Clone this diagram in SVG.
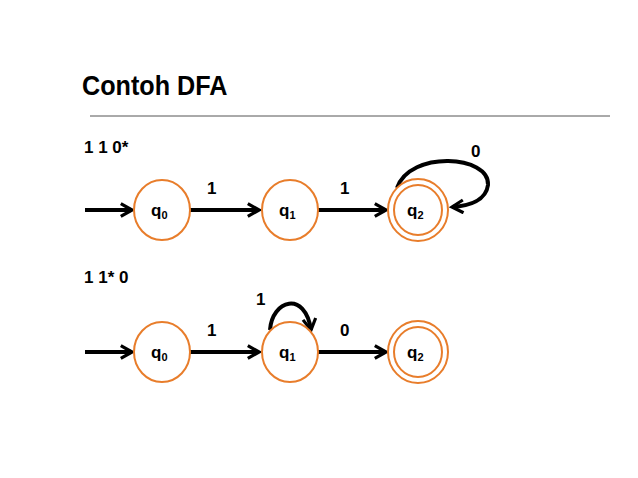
<svg xmlns="http://www.w3.org/2000/svg" width="638" height="478" viewBox="0 0 638 478">
<style>
.st{fill:#fff;stroke:#E87D2B;stroke-width:2}
.e{fill:none;stroke:#000;stroke-width:4}
.t{font-family:"Liberation Sans",Arial,sans-serif;font-weight:bold;fill:#000}
.l{font-size:17px}
.q{font-size:17px}
</style>
<defs>
<marker id="a" viewBox="0 0 10 10" refX="8" refY="5" markerWidth="4" markerHeight="4" orient="auto" markerUnits="strokeWidth">
<path d="M1,1 L8,5 L1,9" fill="none" stroke="#000" stroke-width="2"/>
</marker>
</defs>
<rect width="638" height="478" fill="#fff"/>
<text class="t" x="82" y="95" font-size="28" transform="translate(82 0) scale(0.9 1) translate(-82 0)">Contoh DFA</text>
<line x1="90" y1="116" x2="610" y2="116" stroke="#555" stroke-width="1"/>
<text class="t l" x="84" y="153">1 1 0*</text>
<text class="t l" x="84" y="283">1 1* 0</text>
<g id="connectors">
<path class="e" d="M85,210 L132,210" marker-end="url(#a)"/>
<path class="e" d="M190,210 L259,210" marker-end="url(#a)"/>
<path class="e" d="M318,210 L386,210" marker-end="url(#a)"/>
<path class="e" d="M397,188 C410,150 490,155 488,185 C486,200 470,206 452,207" marker-end="url(#a)"/>
<path class="e" d="M85,352 L132,352" marker-end="url(#a)"/>
<path class="e" d="M190,352 L259,352" marker-end="url(#a)"/>
<path class="e" d="M318,352 L386,352" marker-end="url(#a)"/>
<path class="e" d="M270,330 C272,300 305,290 311,330" marker-end="url(#a)"/>
<text class="t l" x="207" y="194">1</text>
<text class="t l" x="340" y="194">1</text>
<text class="t l" x="471" y="157">0</text>
<text class="t l" x="207" y="336">1</text>
<text class="t l" x="340" y="336">0</text>
<text class="t l" x="256" y="305">1</text>
</g>
<g id="q0a"><ellipse class="st" cx="162" cy="210" rx="28" ry="30"/><text class="t q" x="151" y="216">q<tspan font-size="11" dy="3">0</tspan></text></g>
<g id="q1a"><ellipse class="st" cx="290" cy="210" rx="28" ry="30"/><text class="t q" x="279" y="216">q<tspan font-size="11" dy="3">1</tspan></text></g>
<g id="q2a"><ellipse class="st" cx="418" cy="210" rx="30" ry="31"/><ellipse class="st" cx="418" cy="210" rx="24" ry="25"/><text class="t q" x="407" y="216">q<tspan font-size="11" dy="3">2</tspan></text></g>
<g id="q0b"><ellipse class="st" cx="162" cy="352" rx="28" ry="30"/><text class="t q" x="151" y="358">q<tspan font-size="11" dy="3">0</tspan></text></g>
<g id="q1b"><ellipse class="st" cx="290" cy="352" rx="28" ry="30"/><text class="t q" x="279" y="358">q<tspan font-size="11" dy="3">1</tspan></text></g>
<g id="q2b"><ellipse class="st" cx="418" cy="352" rx="30" ry="31"/><ellipse class="st" cx="418" cy="352" rx="24" ry="25"/><text class="t q" x="407" y="358">q<tspan font-size="11" dy="3">2</tspan></text></g>
</svg>
